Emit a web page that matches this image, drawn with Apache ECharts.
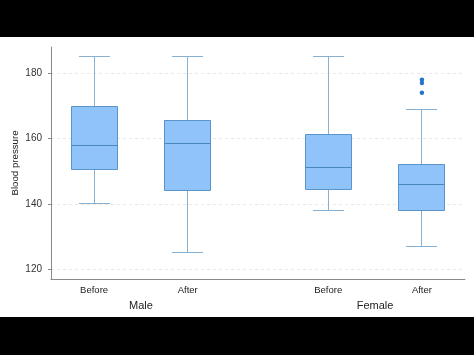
<!DOCTYPE html>
<html>
<head>
<meta charset="utf-8">
<script src="https://cdn.jsdelivr.net/npm/echarts@6/dist/echarts.min.js"></script>
<style>
  html, body { margin: 0; padding: 0; background: #000; }
  #wrap { position: absolute; left: 0; top: 0; width: 474px; height: 355px; background: #000; }
  #chart { position: absolute; left: 0; top: 37px; width: 474px; height: 280px; background: #fff; }
</style>
</head>
<body>
<div id="wrap"><div id="chart"></div></div>
<script>
// ---- data ----
const categories = ['Before', 'After', 'Before', 'After'];
const positions = [0, 1, 2.5, 3.5];
const groups = ['Male', 'Female'];
const groupPositions = [0.5, 3];
const mins = [140, 125, 138, 127];
const q1s = [150.6, 144.1, 144.5, 138];
const medians = [158, 158.5, 151.1, 146];
const q3s = [169.8, 165.4, 161.3, 152];
const maxs = [185, 185, 185, 169];
const outlierBox = [3, 3, 3];
const outlierValues = [178, 177, 174];
const yTicks = [120, 140, 160, 180];

const boxData = positions.map((x, i) => [x, mins[i], q1s[i], medians[i], q3s[i], maxs[i]]);
const outlierData = outlierBox.map((b, i) => [positions[b], outlierValues[i]]);

const FONT = '"Liberation Sans", Arial, Helvetica, sans-serif';
const fillColor = '#8fc3f9';
const borderColor = '#5a95c9';
const whiskerColor = '#86b1d2';
const medianColor = '#4a86c0';

const chart = echarts.init(document.getElementById('chart'), null, { renderer: 'canvas' });

function crisp(v) { return Math.round(v - 0.5) + 0.5; }

chart.setOption({
  animation: false,
  backgroundColor: '#fff',
  grid: { left: 51, right: 9, top: 10, bottom: 38, containLabel: false, outerBoundsMode: 'none' },
  xAxis: [
    {
      type: 'value', min: -0.46, max: 3.96,
      axisLine: { show: true, onZero: false, lineStyle: { color: '#8a8a8a', width: 1 } },
      axisTick: { show: false },
      splitLine: { show: false },
      axisLabel: {
        customValues: positions,
        formatter: v => categories[positions.indexOf(v)] || '',
        color: '#222', fontSize: 9.5, fontFamily: FONT, margin: 6
      }
    },
    {
      type: 'value', min: -0.46, max: 3.96, position: 'bottom',
      axisLine: { show: false, onZero: false },
      axisTick: { show: false },
      splitLine: { show: false },
      axisLabel: {
        customValues: groupPositions,
        formatter: v => groups[groupPositions.indexOf(v)] || '',
        color: '#222', fontSize: 11, fontFamily: FONT, margin: 21
      }
    }
  ],
  yAxis: {
    type: 'value', min: 117, max: 188,
    name: 'Blood pressure', nameLocation: 'middle', nameGap: 31, nameMoveOverlap: false,
    nameTextStyle: { color: '#222', fontSize: 9.7, fontFamily: FONT },
    axisLine: { show: true, onZero: false, lineStyle: { color: '#8a8a8a', width: 1 } },
    axisTick: { show: true, customValues: yTicks, length: 3, lineStyle: { color: '#8a8a8a' } },
    axisLabel: { customValues: yTicks, color: '#333', fontSize: 10, fontFamily: FONT, margin: 9 },
    splitLine: { show: true, lineStyle: { color: '#e8e8e8', type: [3, 3], width: 1 } }
  },
  series: [
    {
      type: 'custom',
      xAxisIndex: 0,
      data: boxData,
      encode: { x: 0, y: [1, 2, 3, 4, 5] },
      renderItem: function (params, api) {
        const x = api.value(0);
        const cx = crisp(api.coord([x, 150])[0]);
        const yMin = crisp(api.coord([x, api.value(1)])[1]);
        const yQ1 = crisp(api.coord([x, api.value(2)])[1]);
        const yMed = crisp(api.coord([x, api.value(3)])[1]);
        const yQ3 = crisp(api.coord([x, api.value(4)])[1]);
        const yMax = crisp(api.coord([x, api.value(5)])[1]);
        const hb = 23, hc = 15.5;
        const wStyle = { stroke: whiskerColor, lineWidth: 1 };
        return {
          type: 'group',
          children: [
            { type: 'line', shape: { x1: cx, y1: yMin, x2: cx, y2: yQ1 }, style: wStyle },
            { type: 'line', shape: { x1: cx, y1: yQ3, x2: cx, y2: yMax }, style: wStyle },
            { type: 'line', shape: { x1: cx - hc, y1: yMin, x2: cx + hc, y2: yMin }, style: wStyle },
            { type: 'line', shape: { x1: cx - hc, y1: yMax, x2: cx + hc, y2: yMax }, style: wStyle },
            { type: 'rect', shape: { x: cx - hb, y: yQ3, width: hb * 2, height: yQ1 - yQ3 },
              style: { fill: fillColor, stroke: borderColor, lineWidth: 1 } },
            { type: 'line', shape: { x1: cx - hb, y1: yMed, x2: cx + hb, y2: yMed },
              style: { stroke: medianColor, lineWidth: 1 } }
          ]
        };
      }
    },
    {
      type: 'scatter',
      xAxisIndex: 0,
      data: outlierData,
      symbol: 'circle',
      symbolSize: 4.5,
      itemStyle: { color: '#2574cc', opacity: 1 }
    }
  ]
});
</script>
</body>
</html>
